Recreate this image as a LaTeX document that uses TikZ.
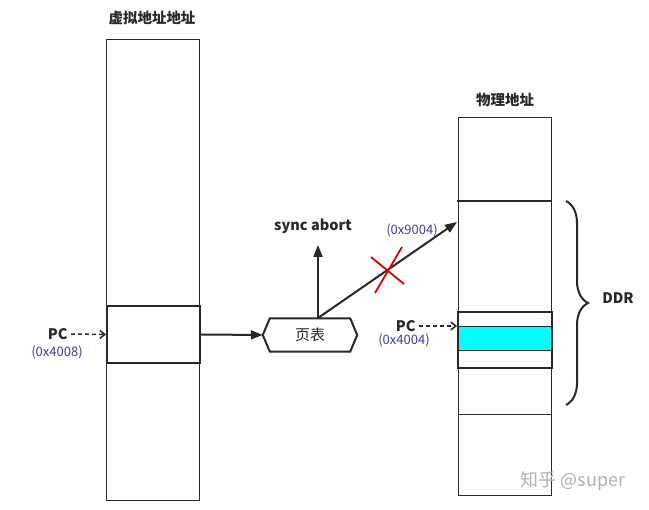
\documentclass[tikz,border=0pt]{standalone}
\usepackage{fontspec}
\setmainfont{Noto Sans CJK SC}
\usetikzlibrary{decorations.pathreplacing,arrows.meta}
\definecolor{lbl}{RGB}{60,60,170}
\definecolor{dk}{RGB}{40,40,40}
\definecolor{cy}{RGB}{0,255,255}
\tikzset{
 thinbox/.style={draw=dk,line width=1pt},
 thickbox/.style={draw=dk,line width=2pt},
 arr/.style={draw=dk,line width=2pt,-{Triangle[length=12pt,width=9pt]}},
 pcarr/.style={draw=dk,line width=1.5pt,dash pattern=on 4pt off 3pt,-{Straight Barb[length=5pt,width=8pt]}},
 ttl/.style={font=\bfseries\fontsize{14.5}{16}\selectfont,text=dk},
 hexl/.style={font=\fontsize{13}{15}\selectfont,text=lbl}
}
\begin{document}
\begin{tikzpicture}[x=1pt,y=-1pt]
\useasboundingbox (0,0) rectangle (649,510);
\fill[white] (0,0) rectangle (649,510);
% left column
\draw[thinbox] (106,40) rectangle (199,501);
\node[thickbox,minimum width=93pt,minimum height=57pt,inner sep=0,anchor=north west] (vbox) at (106,305) {};
\node[ttl] (vt) at (152,18) {虚拟地址地址};
% right column
\draw[thinbox] (458,118) rectangle (551,496);
\draw[dk,line width=2pt] (457,201) -- (552,201);
\draw[thinbox] (458,415) -- (551,415);
\fill[cy] (458,327) rectangle (551,351);
\draw[thinbox] (458,327) -- (551,327) (458,351) -- (551,351);
\node[thickbox,minimum width=94pt,minimum height=56pt,inner sep=0,anchor=north west] (pbox) at (457,311) {};
\coordinate (ptop) at (457,222);
\node[ttl] (pt) at (505,100) {物理地址};
% brace
\draw[dk,line width=2pt,decorate,decoration={brace,amplitude=22pt,aspect=0.5}] (566,201) -- (566,405);
\node[ttl] (ddr) at (618,298) {DDR};
% page table
\node[inner sep=0,minimum width=94pt,minimum height=33pt,font=\fontsize{15}{17}\selectfont,text=dk] (pg) at (310,335) {页表};
\draw[dk,line width=2pt] (pg.west) -- ([xshift=7pt]pg.north west) -- ([xshift=-7pt]pg.north east) -- (pg.east) -- ([xshift=-7pt]pg.south east) -- ([xshift=7pt]pg.south west) -- cycle;
\draw[arr] (vbox.east) -- (pg.west);
\coordinate (br) at (318,318);
\draw[arr] (br) -- (318,245);
\node[ttl] (sa) at (313,226) {sync abort};
\draw[arr] (br) -- (ptop);
\node[hexl] (l9) at (412,230) {(0x9004)};
\draw[red!85!black,line width=1.8pt] (371,257) -- (404,284) (375,293) -- (402,247);
% PCs
\node[ttl,anchor=east] (pc1) at (71,334) {PC};
\draw[pcarr] (pc1.east) -- (vbox.west);
\node[hexl] (a1) at (57,352) {(0x4008)};
\node[ttl,anchor=east] (pc2) at (419,326) {PC};
\draw[pcarr] (pc2.east) -- (457,326);
\node[hexl] (a2) at (404,340) {(0x4004)};
% watermark
\node[text=gray!60,font=\fontsize{18}{20}\selectfont] (wm) at (573,481) {知乎 @super};
\end{tikzpicture}
\end{document}
